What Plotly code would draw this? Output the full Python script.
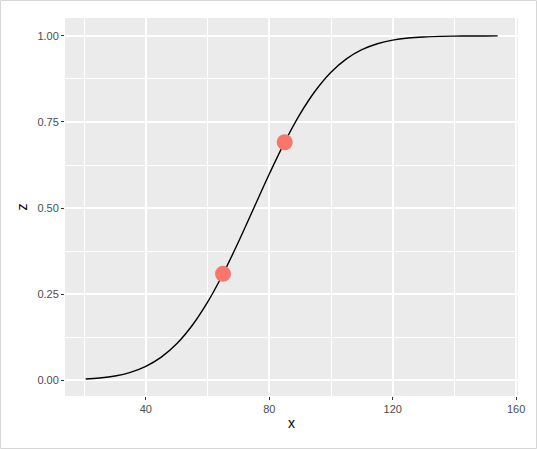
import plotly.graph_objects as go

# curve values
curve_x = [20.5, 25, 30, 35, 40, 45, 50, 55, 60, 65, 70, 75, 80, 85, 90, 95,
           100, 105, 110, 115, 120, 125, 130, 135, 140, 145, 150, 154]
curve_z = [0.0032, 0.0062, 0.0122, 0.0228, 0.0401, 0.0668, 0.1056, 0.1587,
           0.2266, 0.3085, 0.4013, 0.5, 0.5987, 0.6915, 0.7734, 0.8413,
           0.8944, 0.9332, 0.9599, 0.9772, 0.9878, 0.9938, 0.9970, 0.9987,
           0.9994, 0.9998, 0.9999, 1.0]

point_x = [65, 85]
point_z = [0.309, 0.691]

x_ticks = [40, 80, 120, 160]
y_ticks = [0.0, 0.25, 0.5, 0.75, 1.0]
y_tick_labels = ["0.00", "0.25", "0.50", "0.75", "1.00"]

W, H = 537, 449
L, R, T, B = 65, 19, 18, 53
pw, ph = W - L - R, H - T - B

fig = go.Figure()
fig.add_trace(go.Scatter(x=curve_x, y=curve_z, mode="lines",
                         line=dict(color="black", width=1.4, shape="spline"),
                         hoverinfo="skip", showlegend=False))
fig.add_trace(go.Scatter(x=point_x, y=point_z, mode="markers",
                         marker=dict(color="#F8766D", size=16, line=dict(width=0)),
                         showlegend=False))

font_tick = dict(family="Liberation Sans, Arial, sans-serif", size=11, color="#4D4D4D")
font_title = dict(family="Liberation Sans, Arial, sans-serif", size=14, color="black")

fig.update_layout(
    width=W, height=H,
    margin=dict(l=L, r=R, t=T, b=B, pad=0),
    paper_bgcolor="white", plot_bgcolor="#EBEBEB",
    xaxis=dict(range=[13.8, 160.6], tickvals=x_ticks, ticktext=[str(v) for v in x_ticks],
               showgrid=True, gridcolor="white", gridwidth=1.6, zeroline=False,
               ticks="outside", ticklen=3, tickcolor="#333333", tickwidth=1,
               tickfont=font_tick, showline=False,
               minor=dict(tickvals=[20, 60, 100, 140], showgrid=True, gridcolor="white", gridwidth=0.8, ticks=""),
               title=dict(text="x", font=font_title, standoff=3)),
    yaxis=dict(range=[-0.046, 1.052], tickvals=y_ticks, ticktext=y_tick_labels,
               showgrid=True, gridcolor="white", gridwidth=1.6, zeroline=False,
               ticks="outside", ticklen=3, tickcolor="#333333", tickwidth=1,
               tickfont=font_tick, showline=False,
               minor=dict(tickvals=[0.125, 0.375, 0.625, 0.875], showgrid=True, gridcolor="white", gridwidth=0.8, ticks=""),
               title=dict(text="z", font=font_title, standoff=6)),
)

fig.add_shape(type="rect", xref="paper", yref="paper",
              x0=(0.5 - L) / pw, x1=(W - 0.5 - L) / pw,
              y0=(H - B - (H - 0.5)) / ph, y1=(H - B - 0.5) / ph,
              line=dict(color="#D6D6D6", width=1), fillcolor="rgba(0,0,0,0)", layer="above")

fig.write_html("out.html", config={"displayModeBar": False},
               post_script="document.body.style.margin='0';document.body.style.padding='0';document.body.style.overflow='hidden';")
